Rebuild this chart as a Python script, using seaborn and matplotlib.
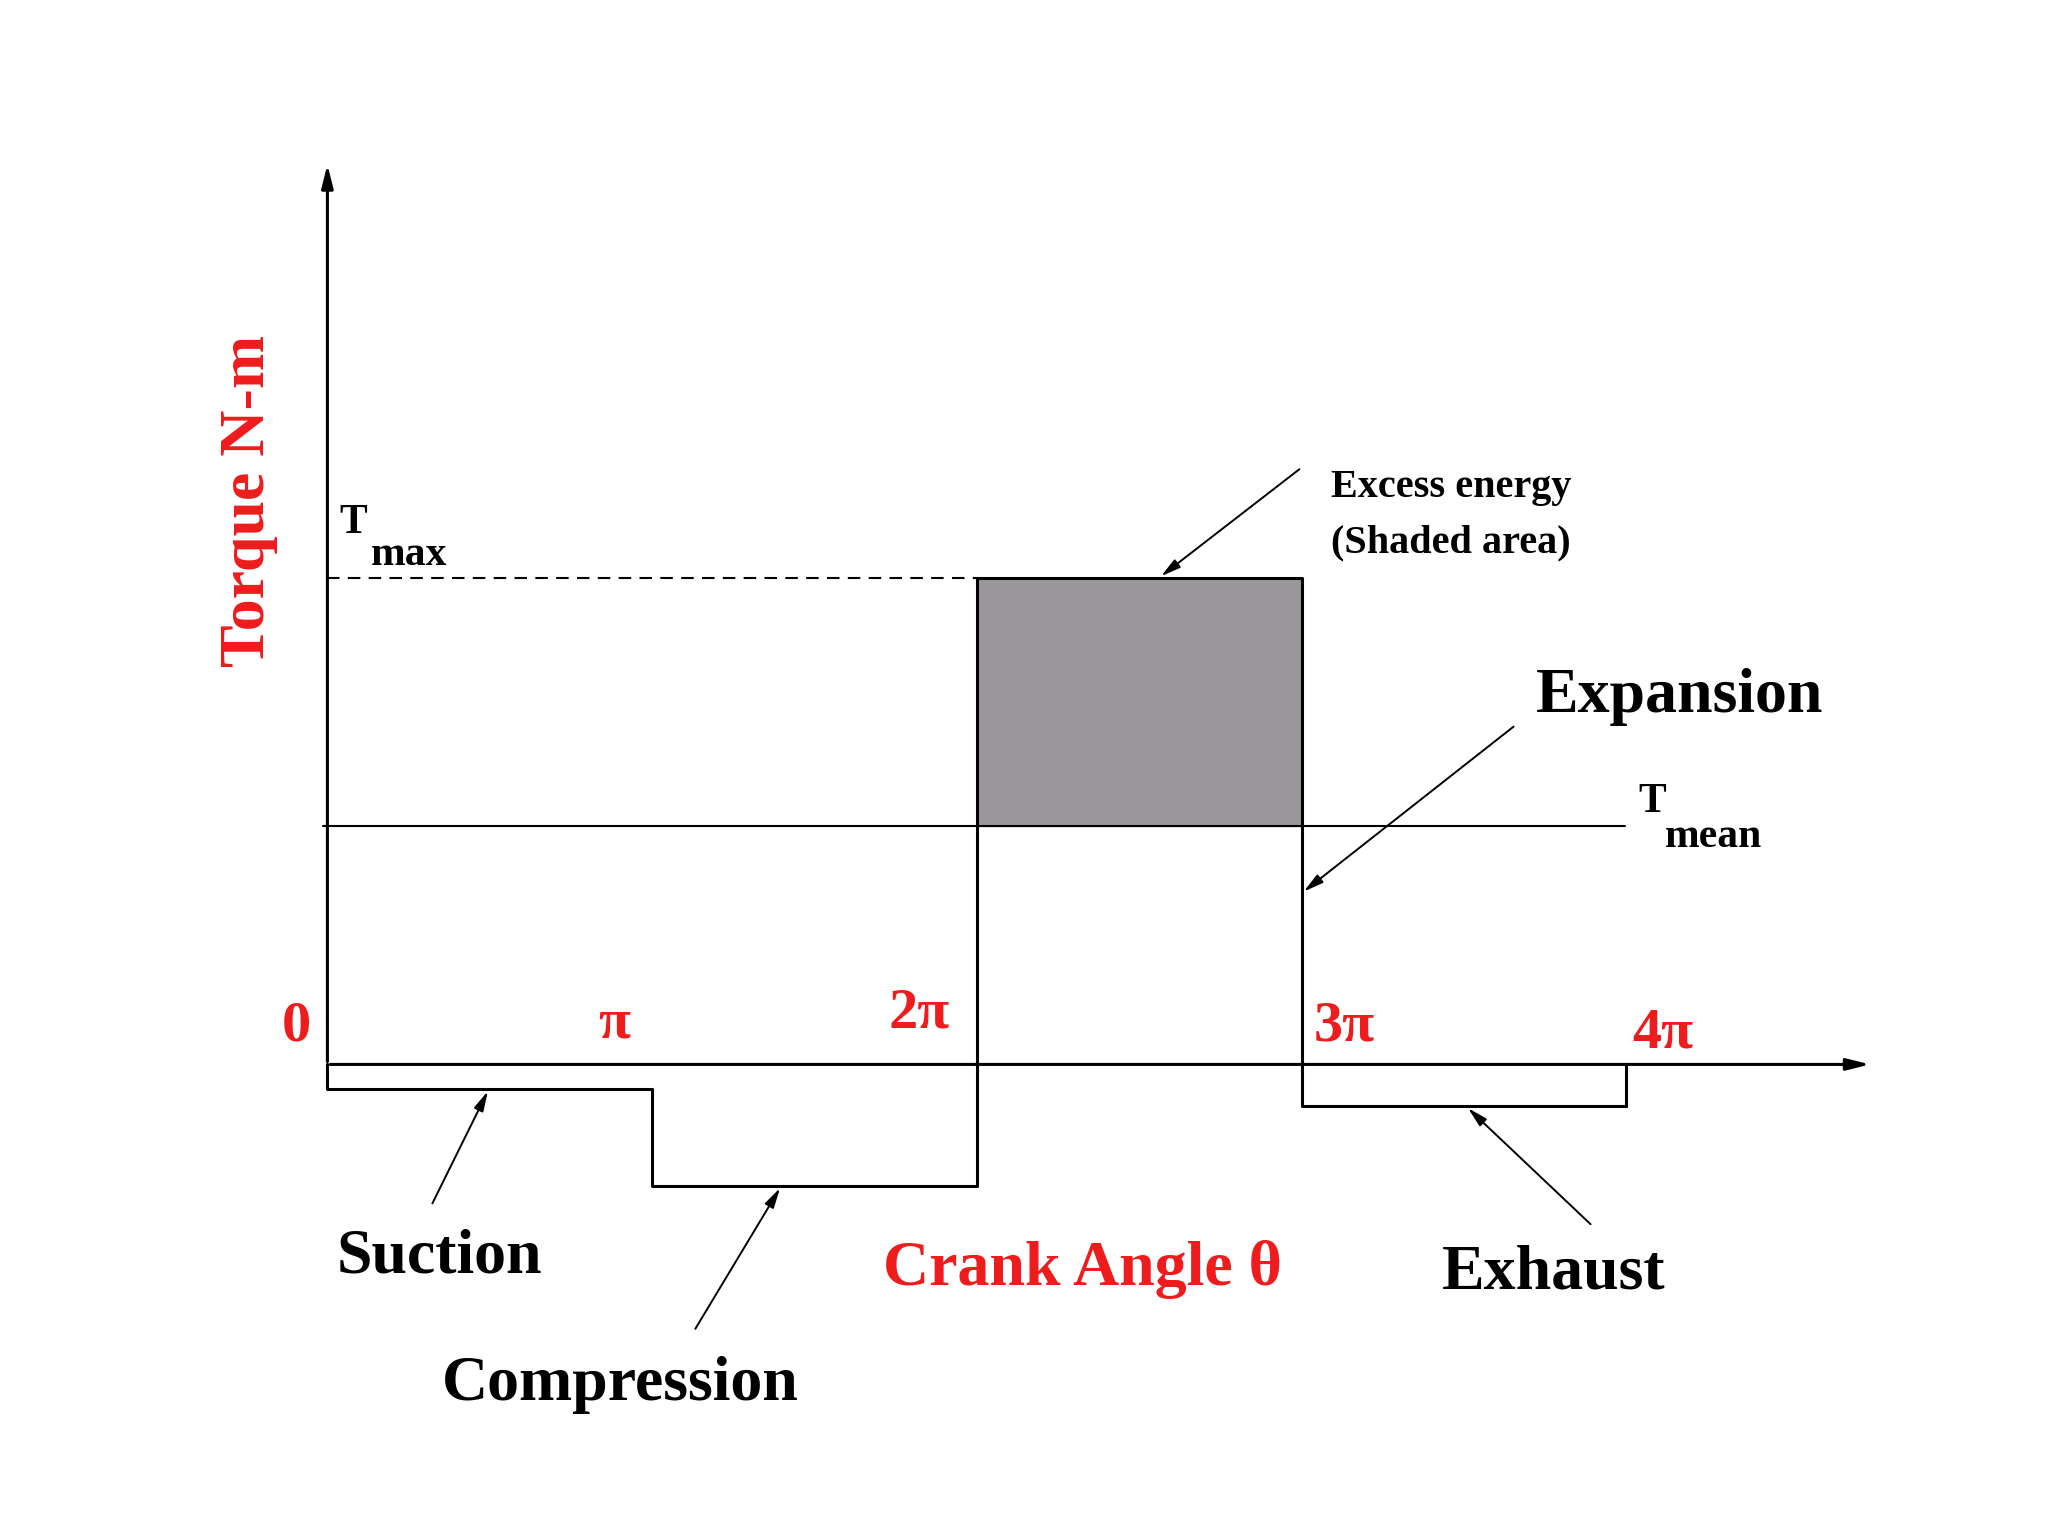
import matplotlib
matplotlib.use('Agg')
import matplotlib.pyplot as plt
import seaborn as sns
import pandas as pd

# crank angle stroke boundaries (multiples of pi) and torque per stroke
stroke_edges = [0, 1, 2, 3, 4]
stroke_names = ["Suction", "Compression", "Expansion", "Exhaust"]
stroke_torque = [-18, -90, 361, -31]
t_max = 361
t_mean = 177
tick_labels = ["0", "π", "2π", "3π", "4π"]

sns.set_style("white")
plt.rcParams['font.family'] = ['Liberation Serif', 'DejaVu Serif']
plt.rcParams['text.color'] = 'black'

fig = plt.figure(figsize=(20.48, 15.36), dpi=100)
ax = fig.add_axes([0, 0, 1, 1])
ax.set_xlim(-243 / 241, (1520 - 243) / 241)
ax.set_ylim(790 - 1140, 790)
ax.axis('off')

def X(px):
    return (px - 243) / 241

def Y(py):
    return 790 - py

# step curve of torque
df = pd.DataFrame({"x": [0] + stroke_edges, "y": [0] + stroke_torque + [stroke_torque[-1]]})
sns.lineplot(data=df, x="x", y="y", drawstyle="steps-post", estimator=None, sort=False,
             color="black", lw=2.2, ax=ax)
ax.plot([4, 4], [stroke_torque[-1], 0], color="black", lw=2.2)

# shaded excess energy
ax.fill_between([2, 3], t_mean, t_max, color="#999799", zorder=0)

# mean and max lines
ax.plot([X(240), X(1206)], [t_mean, t_mean], color="black", lw=1.5)
ax.plot([0, 2], [t_max, t_max], color="black", lw=1.5, ls=(0, (6, 4)))

# axes arrows
arr = dict(arrowstyle="-|>,head_length=1.4,head_width=0.35", color="black", lw=2.2)
ax.annotate("", xy=(X(1390), 0), xytext=(0, 0), arrowprops=arr)
ax.annotate("", xy=(0, Y(120)), xytext=(0, 0), arrowprops=arr)

bold = dict(fontweight="bold", color="black")
red = "#ee1c1c"
tick_pos = [(220, 762), (456, 760), (682, 752), (998, 762), (1234, 767)]
for lab, (px, py) in zip(tick_labels, tick_pos):
    ax.text(X(px), Y(py), lab, color=red, fontsize=42, ha="center", va="center", fontweight="bold")

ax.text(X(185), Y(372), "Torque N-m", color=red, fontsize=46, rotation=90,
        ha="center", va="center", fontweight="bold")
ax.text(X(655), Y(942), "Crank Angle θ", color=red, fontsize=46, ha="left", va="center",
        fontweight="bold")

# T max / T mean labels
ax.text(X(252), Y(388), "T", fontsize=30, ha="left", va="center", **bold)
ax.text(X(275), Y(412), "max", fontsize=30, ha="left", va="center", **bold)
ax.text(X(1216), Y(595), "T", fontsize=30, ha="left", va="center", **bold)
ax.text(X(1236), Y(621), "mean", fontsize=30, ha="left", va="center", **bold)

# annotations
harr = dict(arrowstyle="-|>,head_length=1.2,head_width=0.3", color="black", lw=1.4)
ax.text(X(988), Y(362), "Excess energy", fontsize=29, ha="left", va="center", **bold)
ax.text(X(988), Y(403), "(Shaded area)", fontsize=29, ha="left", va="center", **bold)
ax.annotate("", xy=(X(860), Y(429)), xytext=(X(966), Y(347)), arrowprops=harr)

ax.text(X(1140), Y(517), stroke_names[2], fontsize=46, ha="left", va="center", **bold)
ax.annotate("", xy=(X(966), Y(663)), xytext=(X(1125), Y(538)), arrowprops=harr)

ax.text(X(250), Y(933), stroke_names[0], fontsize=46, ha="left", va="center", **bold)
ax.annotate("", xy=(X(363), Y(808)), xytext=(X(320), Y(895)), arrowprops=harr)

ax.text(X(328), Y(1028), stroke_names[1], fontsize=46, ha="left", va="center", **bold)
ax.annotate("", xy=(X(580), Y(880)), xytext=(X(515), Y(988)), arrowprops=harr)

ax.text(X(1070), Y(945), stroke_names[3], fontsize=46, ha="left", va="center", **bold)
ax.annotate("", xy=(X(1088), Y(821)), xytext=(X(1182), Y(910)), arrowprops=harr)

fig.savefig("out.png", dpi=100)
